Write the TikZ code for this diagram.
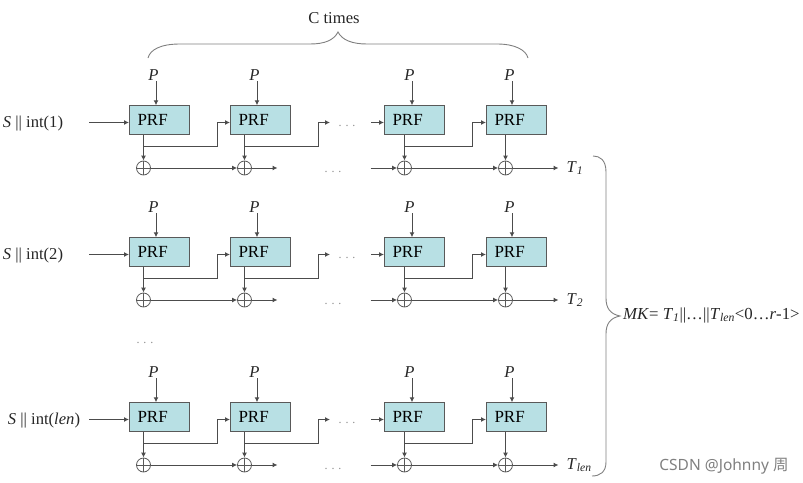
\documentclass[tikz,border=0pt]{standalone}
\usepackage{fontspec}
\setmainfont{Liberation Serif}
\newfontfamily\marksans{Noto Sans}
\newfontfamily\markcjk{Noto Sans CJK SC}
\usetikzlibrary{positioning, calc, arrows.meta}
\definecolor{prffill}{RGB}{184,224,228}

\begin{document}
\begin{tikzpicture}[
    x=1pt, y=-1pt,
    node distance=16pt,
    font=\fontsize{16.6}{18}\selectfont,
    % Estilos
    prfbox/.style={
        draw=black!65, fill=prffill, line width=1pt,
        minimum height=28.5pt, minimum width=60pt, inner xsep=8pt, inner ysep=0pt,
        text width=44pt, align=left, font=\fontsize{17}{18}\selectfont
    },
    xorcirc/.style={
        draw=black!65, circle, line width=0.8pt, minimum size=14pt, inner sep=0pt,
        path picture={\draw[black!65, line width=0.8pt]
            (path picture bounding box.north) -- (path picture bounding box.south)
            (path picture bounding box.west) -- (path picture bounding box.east);}
    },
    lab/.style={inner sep=1pt, text=black!85},
    faint/.style={inner sep=0pt, text=black!45, font=\fontsize{12}{14}\selectfont},
    line/.style={draw=black!70, line width=1pt},
    flow/.style={line, -{Latex[length=5pt, width=5pt]}},
    bracket/.style={draw=black!50, line width=0.9pt}
]
    \useasboundingbox (0,0) rectangle (803,482);

    % --- LINHAS ---
    \foreach \rw/\yc/\lx/\slab/\tlab in {%
        1/120/33/{\textit{S} || int(1)}/{\textit{T}\textsubscript{\textit{1}}},
        2/252/33/{\textit{S} || int(2)}/{\textit{T}\textsubscript{\textit{2}}},
        3/417/44/{\textit{S} || int(\textit{len})}/{\textit{T}\textsubscript{\textit{len}}}} {

        % Blocos PRF
        \node[prfbox] (prf\rw a) at (159.5,\yc) {PRF};
        \node[prfbox, right=40pt of prf\rw a] (prf\rw b) {PRF};
        \node[prfbox, right=93pt of prf\rw b] (prf\rw c) {PRF};
        \node[prfbox, right=41pt of prf\rw c] (prf\rw d) {PRF};

        % Somadores
        \foreach \k/\dx/\px in {a/-16/-3.5, b/-16/-3.5, c/-10/-2.5, d/-11/-4.5} {
            \node[xorcirc] (xor\rw\k) at ([xshift=\dx pt, yshift=-48pt]prf\rw\k.center) {};
            \node[lab, above=24pt of prf\rw\k.north, xshift=\px pt - 2.5pt] (p\rw\k) {\textit{P}};
            \coordinate (pin\rw\k) at ([xshift=2.5pt]p\rw\k.south);
            \draw[flow] (pin\rw\k) -- (pin\rw\k |- prf\rw\k.north);
            \draw[flow] (xor\rw\k |- prf\rw\k.south) -- (xor\rw\k.north);
            \coordinate (tap\rw\k) at ([yshift=-26pt]xor\rw\k |- prf\rw\k.center);
            \coordinate (in\rw\k) at ([yshift=-2.5pt]prf\rw\k.west);
        }

        % Entrada e saida
        \node[lab] (s\rw) at (\lx,\yc+4) {\slab};
        \coordinate (start\rw) at (89,\yc+2.5);
        \draw[flow] (start\rw) -- (in\rw a);

        % Realimentacao
        \coordinate (up\rw a) at (217,\yc+2.5);
        \coordinate (up\rw b) at (318,\yc+2.5);
        \coordinate (end\rw b) at (330,\yc+2.5);
        \coordinate (up\rw c) at (472,\yc+2.5);
        \coordinate (from\rw c) at (371,\yc+2.5);
        \draw[flow] (tap\rw a) -| (up\rw a) -- (in\rw b);
        \draw[flow] (tap\rw b) -| (up\rw b) -- (end\rw b);
        \draw[flow] (from\rw c) -- (in\rw c);
        \draw[flow] (tap\rw c) -| (up\rw c) -- (in\rw d);

        % Cadeia de XOR
        \coordinate (out\rw b) at ([xshift=33pt]xor\rw b.center);
        \coordinate (from\rw x) at ([xshift=-34pt]xor\rw c.center);
        \coordinate (out\rw d) at ([xshift=53pt]xor\rw d.center);
        \draw[flow] (xor\rw a) -- (xor\rw b);
        \draw[flow] (xor\rw b) -- (out\rw b);
        \draw[flow] (from\rw x) -- (xor\rw c);
        \draw[flow] (xor\rw c) -- (xor\rw d);
        \draw[flow] (xor\rw d) -- (out\rw d);
        \node[lab, right=7pt of out\rw d] (t\rw) {\tlab};

        % Reticencias
        \node[faint] (dotsa\rw) at (347,\yc+6) {. . .};
        \node[faint] (dotsb\rw) at (333,\yc+52) {. . .};
    }

    \node[faint] (dotsrow) at (145,343) {. . .};

    % --- CHAVES ---
    \coordinate (brtopa) at (148,58);
    \coordinate (brtopb) at (528,58);
    \draw[bracket] (brtopa) .. controls (150,50) and (160,44) .. (180,44) -- (310,44)
        .. controls (325,44) and (334,40) .. (338,32)
        .. controls (342,40) and (352,44) .. (367,44) -- (497,44)
        .. controls (515,44) and (526,50) .. (brtopb);
    \node[lab] (ctimes) at (334,18) {C times};

    \coordinate (brrighta) at (593,156);
    \coordinate (brrightb) at (592,476);
    \draw[bracket] (brrighta) .. controls (600,156) and (606,160) .. (606,172) -- (606,298)
        .. controls (606,308) and (610,314) .. (620,316)
        .. controls (610,318) and (606,324) .. (606,334) -- (606,462)
        .. controls (606,472) and (600,476) .. (brrightb);
    \node[lab, anchor=west, font=\fontsize{16.8}{18}\selectfont] (mk) at (622,315) {\textit{MK}= \textit{T}\textsubscript{\textit{1}}||\dots||\textit{T}\textsubscript{\textit{len}}<0\dots\textit{r}-1>};

    % Marca
    \node[inner sep=0pt, text=black!50, font=\fontsize{15.5}{16}\selectfont] (mark) at (724,466) {\marksans CSDN @Johnny \markcjk 周};

\end{tikzpicture}
\end{document}
